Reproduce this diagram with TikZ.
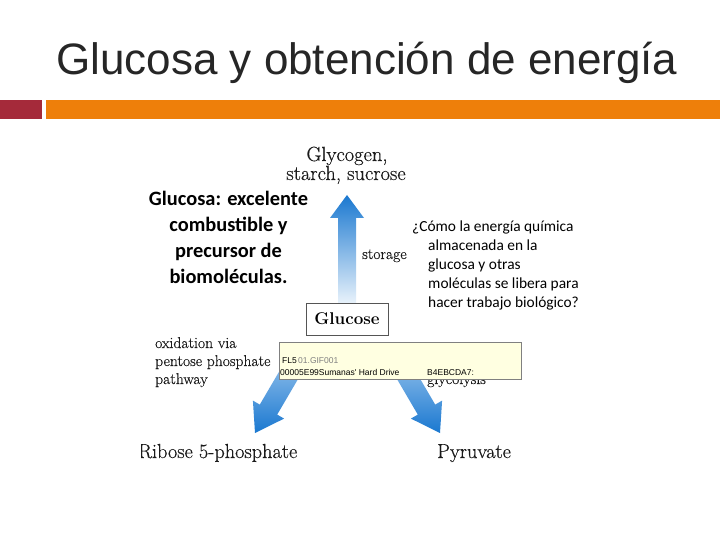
\documentclass[tikz,border=0pt]{standalone}
\usepackage{fontspec}
\newfontfamily\arialf{Liberation Sans}
\newfontfamily\calf{Carlito}
\newfontfamily\serifh{Latin Modern Roman}[FakeBold=0.4]
\definecolor{barred}{HTML}{A52A3A}
\definecolor{barorange}{HTML}{EE7F0A}
\definecolor{arrdark}{HTML}{1A78D0}
\definecolor{arrlight}{HTML}{E8F2FB}
\definecolor{arrmid}{HTML}{A8CDF0}
\definecolor{tipfill}{HTML}{FFFFE1}
\definecolor{tipborder}{HTML}{808080}
\definecolor{titlegray}{HTML}{262626}
\definecolor{boxgray}{HTML}{555555}
\definecolor{serifgray}{HTML}{1A1A1A}
\begin{document}
\begin{tikzpicture}[x=1pt,y=-1pt,
  lbl/.style={inner sep=0, anchor=base west, text=serifgray, font=\serifh\fontsize{15.6}{18}\selectfont},
  biglbl/.style={inner sep=0, anchor=base west, text=serifgray, font=\serifh\fontsize{20.3}{22}\selectfont},
  toplbl/.style={inner sep=0, anchor=base, text=serifgray, font=\serifh\fontsize{20.5}{22}\selectfont},
  boldq/.style={inner sep=0, anchor=base, font=\calf\bfseries\fontsize{20.4}{24}\selectfont},
  qtext/.style={inner sep=0, anchor=base west, font=\calf\fontsize{15.4}{18}\selectfont},
  tiptext/.style={inner sep=0, anchor=base west, font=\arialf\fontsize{8.5}{10}\selectfont}]
\useasboundingbox (0,0) rectangle (720,540);
\fill[white] (0,0) rectangle (720,540);

% title and bar
\node[inner sep=0, anchor=base west, text=titlegray, font=\arialf\fontsize{44}{52}\selectfont] (title) at (56,75) {Glucosa y obtención de energía};
\fill[barred] (0,100) rectangle (42,119);
\fill[barorange] (46,100) rectangle (720,119);

% arrows
\shade[top color=arrdark, bottom color=arrlight]
  (338,303) -- (338,218) -- (330,218) -- (347,195) -- (364,218) -- (356,218) -- (356,303) -- cycle;
\shade[top color=arrmid, bottom color=arrdark]
  (295.3,344) -- (259.8,404.6) -- (252.9,400.6) -- (255,433) -- (284.1,418.6) -- (277.2,414.6) -- (312.7,354) -- cycle;
\shade[top color=arrmid, bottom color=arrdark]
  (399.7,344) -- (435.2,404.6) -- (442.1,400.6) -- (440,433) -- (410.9,418.6) -- (417.8,414.6) -- (382.3,354) -- cycle;

% glucose box
\node[draw=boxgray, line width=0.8pt, fill=white, minimum width=82pt, minimum height=32pt, inner sep=0,
  font=\bfseries\fontsize{17}{19}\selectfont] (glucose) at (347,319) {Glucose};

% labels
\node[toplbl] (glyc1) at (347,161) {Glycogen,};
\node[toplbl] (glyc2) at (346,180) {starch, sucrose};
\node[lbl] (storage) at (362,259) {storage};

\node[boldq] (b1) at (228.5,206) {Glucosa: excelente};
\node[boldq] (b2) at (228.5,232) {combustible y};
\node[boldq] (b3) at (228.5,258) {precursor de};
\node[boldq] (b4) at (228.5,283) {biomoléculas.};

\node[qtext] (q1) at (412,231) {¿Cómo la energía química};
\node[qtext] (q2) at (428,250) {almacenada en la};
\node[qtext] (q3) at (428,269) {glucosa y otras};
\node[qtext] (q4) at (428,288) {moléculas se libera para};
\node[qtext] (q5) at (428,307) {hacer trabajo biológico?};

\node[lbl] (ox1) at (155,348) {oxidation via};
\node[lbl] (ox2) at (155,366) {pentose phosphate};
\node[lbl] (ox3) at (155,384) {pathway};
\node[lbl] (glyco) at (427,384) {glycolysis};

\begin{scope}
\clip (141,0) rectangle (720,540);
\node[biglbl] (ribose) at (138,458) {Ribose 5-phosphate};
\end{scope}
\node[biglbl] (pyruvate) at (437,458) {Pyruvate};

% tooltip
\node[draw=tipborder, fill=tipfill, line width=0.6pt, minimum width=242pt, minimum height=37pt, inner sep=0, anchor=north west] (tip) at (279,342) {};
\node[tiptext] (t1) at (282,363) {FL5};
\node[tiptext, text=gray] (t2) at (298,363) {01.GIF001};
\node[tiptext] (t3) at (280,375) {00005E99Sumanas' Hard Drive};
\node[tiptext] (t4) at (427,375) {B4EBCDA7:};
\end{tikzpicture}
\end{document}
